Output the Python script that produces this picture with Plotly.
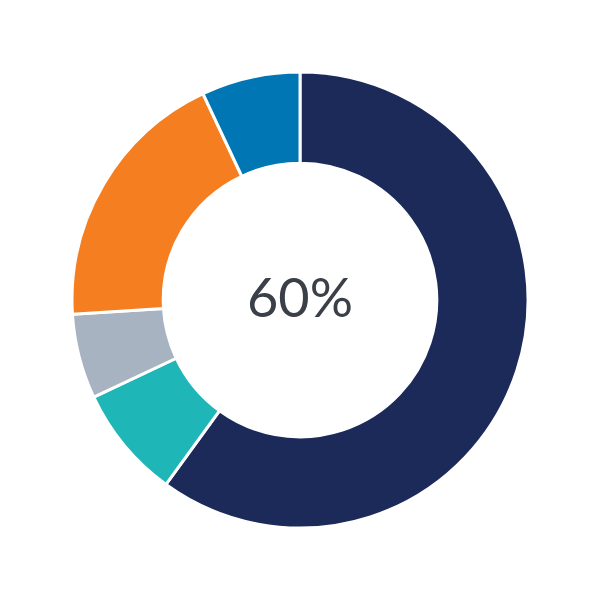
import plotly.graph_objects as go

# slices clockwise from 12 o'clock
labels = ["Navy", "Teal", "Gray", "Orange", "Blue"]
values = [60, 8, 6, 19, 7]
colors = ["#1c2a5a", "#1fb6b8", "#a8b3c2", "#f47e20", "#0176b5"]
center_text = "60%"

fig = go.Figure()

# page has an 8px body margin, so nudge the domain up/left to centre at 300,300
fig.add_trace(go.Pie(
    labels=labels,
    values=values,
    hole=0.6,
    sort=False,
    direction="clockwise",
    rotation=0,
    marker=dict(colors=colors, line=dict(color="white", width=3)),
    textinfo="none",
    hoverinfo="label+percent",
    showlegend=False,
    domain=dict(x=[0.1067, 0.8667], y=[0.1333, 0.8933]),
))

fig.add_annotation(
    text=center_text, x=0.4867, y=0.5133, xref="paper", yref="paper",
    showarrow=False, yshift=4,
    font=dict(family="Lato", size=54, color="#3b4048"),
)

fig.update_layout(
    width=600, height=600,
    margin=dict(l=0, r=0, t=0, b=0),
    paper_bgcolor="white",
    plot_bgcolor="white",
)

fig.write_html("out.html")
